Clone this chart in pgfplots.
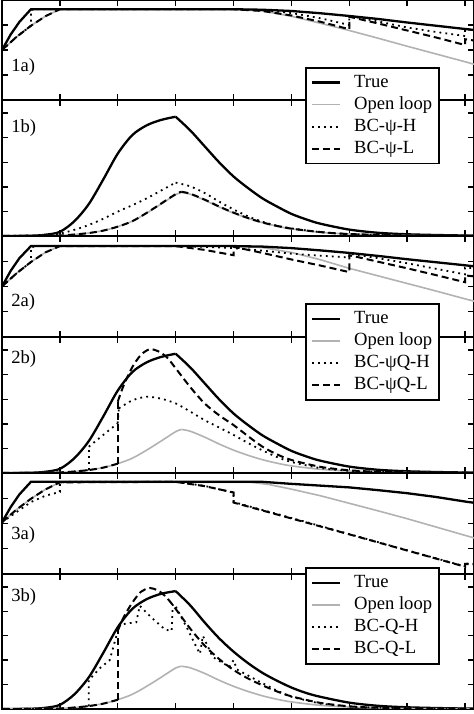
\documentclass[border=0pt]{standalone}
\usepackage{fontspec}
\setmainfont{Liberation Serif}
\usepackage{pgfplots}
\pgfplotsset{compat=1.18}
\definecolor{olgray}{gray}{0.7}
\newcommand{\lblfont}{\fontsize{9.3bp}{11bp}\selectfont}
\pgfplotsset{
  panel/.style={scale only axis, width=236bp, xmin=0, xmax=8.155,
    xtick={1,...,8}, xticklabels={}, yticklabels={},
    tick align=inside, tick pos=both, major tick length=3bp,
    every tick/.style={black, line width=0.7bp},
    axis line style={line width=0.9bp}, anchor=south west, clip=true},
  apanel/.style={panel, height=#1, ymin=0, ymax=4, ytick={1,2,3}},
  bpanel/.style={panel, height=#1, ymin=0, ymax=5.53, ytick={1,...,5}},
  truestyle/.style={black, line width=1.15bp},
  olstyle/.style={olgray, line width=0.8bp},
  hstyle/.style={black, line width=0.9bp, dash pattern=on 0.9bp off 2.1bp},
  lstyle/.style={black, line width=1bp, dash pattern=on 3.5bp off 2bp},
  leg/.style={legend style={at={#1}, anchor=north west, draw=black,
      line width=0.8bp, fill=white, font=\lblfont,
      inner xsep=2.5bp, inner ysep=2.6bp, row sep=1.3bp, nodes={inner sep=1bp}, cells={anchor=west}},
    legend cell align=left,
    legend image code/.code={\draw[##1] (0bp,0bp) -- (14bp,0bp); \path (19.5bp,0bp);}},
}
\begin{document}
\begin{tikzpicture}
\useasboundingbox (0,0) rectangle (237bp,357bp);
% ---------------- 1a
\begin{axis}[apanel=50bp, at={(1bp,307bp)}]
\addplot[olstyle] coordinates {(0,2)(0.25,2.52)(0.5,2.97)(0.75,3.35)(1,3.63)(4,3.63)(4.5,3.56)(5,3.35)(5.5,3.07)(6,2.78)(6.5,2.47)(7,2.15)(7.5,1.84)(8,1.53)(8.155,1.43)};
\addplot[lstyle] coordinates {(0,2)(0.25,2.52)(0.5,2.97)(0.75,3.35)(1,3.63)(4,3.63)(4.5,3.56)(5,3.38)(5.5,3.13)(6,2.83)(6,3.33)(6.5,3.06)(7,2.78)(7.5,2.5)(8,2.2)(8,2.43)(8.155,2.38)};
\addplot[hstyle] coordinates {(0,2)(0.25,2.52)(0.5,2.97)(0.5,3.6)(0.6,3.63)(4,3.63)(4.5,3.59)(5,3.48)(5.5,3.27)(6,3.0)(6,3.36)(6.5,3.14)(7,2.9)(7.5,2.72)(8,2.56)(8,2.83)(8.155,2.8)};
\addplot[truestyle] coordinates {(0,2)(0.15,2.62)(0.3,3.12)(0.5,3.63)(4,3.63)(4.5,3.61)(5,3.56)(5.5,3.47)(6,3.36)(6.5,3.24)(7,3.1)(7.5,2.97)(8,2.84)(8.155,2.8)};
\node[anchor=west, inner sep=0, font=\lblfont] at (rel axis cs:0.019,0.33) {1a)};
\end{axis}
% ---------------- 1b
\begin{axis}[bpanel=68bp, at={(1bp,239bp)}, leg={(0.642,1.243)}]
\addplot[truestyle, smooth, tension=0.5] coordinates {(0,0)(0.5,0.01)(0.75,0.05)(1,0.17)(1.25,0.6)(1.5,1.3)(1.75,2.3)(2,3.35)(2.25,4.1)(2.5,4.5)(2.75,4.72)(3,4.85)};
\addlegendentry{True}
\addplot[truestyle, smooth, tension=0.5, forget plot] coordinates {(3,4.85)(3.25,4.3)(3.5,3.65)(3.75,3.0)(4,2.42)(4.25,1.95)(4.5,1.53)(4.75,1.2)(5,0.9)(5.25,0.68)(5.5,0.5)(6,0.26)(6.5,0.13)(7,0.07)(7.5,0.04)(8,0.02)(8.155,0.02)};
\addplot[olstyle, smooth, tension=0.5] coordinates {(0,0)(0.75,0.01)(1,0.02)(1.25,0.06)(1.5,0.12)(1.75,0.22)(2,0.38)(2.25,0.6)(2.5,0.93)(2.75,1.3)(3,1.68)(3.1,1.77)};
\addlegendentry{Open loop}
\addplot[olstyle, smooth, tension=0.5, forget plot] coordinates {(3.1,1.77)(3.25,1.7)(3.5,1.46)(3.75,1.18)(4,0.93)(4.25,0.72)(4.5,0.54)(4.75,0.4)(5,0.29)(5.5,0.15)(6,0.08)(6.5,0.04)(7,0.02)(8,0.01)(8.155,0.01)};
\addplot[hstyle, smooth, tension=0.5] coordinates {(0,0)(0.5,0.02)(0.75,0.05)(1,0.1)(1.25,0.25)(1.5,0.45)(1.75,0.7)(2,0.99)(2.25,1.25)(2.5,1.53)(2.75,1.85)(3,2.17)};
\addlegendentry{BC-ψ-H}
\addplot[hstyle, smooth, tension=0.5, forget plot] coordinates {(3,2.17)(3.25,2.02)(3.5,1.75)(3.75,1.4)(4,1.08)(4.25,0.8)(4.5,0.58)(4.75,0.42)(5,0.31)(5.5,0.16)(6,0.08)(7,0.02)(8,0.01)(8.155,0.01)};
\addplot[lstyle, smooth, tension=0.5] coordinates {(0,0)(0.75,0.01)(1,0.02)(1.25,0.06)(1.5,0.12)(1.75,0.22)(2,0.38)(2.25,0.6)(2.5,0.94)(2.75,1.32)(3,1.7)(3.1,1.8)};
\addlegendentry{BC-ψ-L}
\addplot[lstyle, smooth, tension=0.5, forget plot] coordinates {(3.1,1.8)(3.25,1.72)(3.5,1.48)(3.75,1.2)(4,0.95)(4.25,0.73)(4.5,0.55)(4.75,0.41)(5,0.3)(5.5,0.16)(6,0.08)(7,0.02)(8,0.01)(8.155,0.01)};
\node[anchor=west, inner sep=0, font=\lblfont] at (rel axis cs:0.019,0.792) {1b)};
\end{axis}
% ---------------- 2a
\begin{axis}[apanel=50.5bp, at={(1bp,188.5bp)}]
\addplot[olstyle] coordinates {(0,2)(0.25,2.52)(0.5,2.97)(0.75,3.35)(1,3.6)(4,3.6)(4.5,3.54)(5,3.35)(5.5,3.06)(6,2.72)(6.5,2.42)(7,2.12)(7.5,1.82)(8,1.51)(8.155,1.42)};
\addplot[lstyle] coordinates {(0,2)(0.25,2.52)(0.5,2.97)(0.75,3.35)(1,3.6)(3,3.6)(3.5,3.45)(4,3.24)(4,3.57)(4.5,3.33)(5,3.07)(5.5,2.83)(6,2.57)(6,3.24)(6.5,2.98)(7,2.72)(7.5,2.45)(8,2.17)(8,2.44)(8.155,2.4)};
\addplot[hstyle] coordinates {(0,2)(0.25,2.52)(0.5,2.97)(0.5,3.55)(0.6,3.6)(3,3.6)(3.5,3.57)(4,3.52)(4.5,3.42)(5,3.3)(5.5,3.22)(6,3.15)(6,3.3)(6.5,3.12)(7,2.92)(7.5,2.7)(8,2.48)(8,2.75)(8.155,2.72)};
\addplot[truestyle] coordinates {(0,2)(0.15,2.62)(0.3,3.12)(0.5,3.6)(4,3.6)(4.5,3.58)(5,3.52)(5.5,3.43)(6,3.33)(6.5,3.21)(7,3.08)(7.5,2.96)(8,2.84)(8.155,2.8)};
\node[anchor=west, inner sep=0, font=\lblfont] at (rel axis cs:0.019,0.35) {2a)};
\end{axis}
% ---------------- 2b
\begin{axis}[bpanel=68bp, at={(1bp,120.5bp)}, leg={(0.642,1.248)}]
\addplot[truestyle, smooth, tension=0.5] coordinates {(0,0)(0.5,0.01)(0.75,0.05)(1,0.17)(1.25,0.6)(1.5,1.3)(1.75,2.3)(2,3.35)(2.25,4.1)(2.5,4.5)(2.75,4.72)(3,4.85)};
\addlegendentry{True}
\addplot[truestyle, smooth, tension=0.5, forget plot] coordinates {(3,4.85)(3.25,4.3)(3.5,3.65)(3.75,3.0)(4,2.42)(4.25,1.95)(4.5,1.53)(4.75,1.2)(5,0.9)(5.25,0.68)(5.5,0.5)(6,0.26)(6.5,0.13)(7,0.07)(7.5,0.04)(8,0.02)(8.155,0.02)};
\addplot[olstyle, smooth, tension=0.5] coordinates {(0,0)(0.75,0.01)(1,0.02)(1.25,0.06)(1.5,0.12)(1.75,0.22)(2,0.38)(2.25,0.6)(2.5,0.93)(2.75,1.3)(3,1.68)(3.1,1.77)};
\addlegendentry{Open loop}
\addplot[olstyle, smooth, tension=0.5, forget plot] coordinates {(3.1,1.77)(3.25,1.7)(3.5,1.46)(3.75,1.18)(4,0.93)(4.25,0.72)(4.5,0.54)(4.75,0.4)(5,0.29)(5.5,0.15)(6,0.08)(6.5,0.04)(7,0.02)(8,0.01)(8.155,0.01)};
\addplot[hstyle, smooth, tension=0.5] coordinates {(0,0)(0.75,0.01)(1,0.02)(1.25,0.06)(1.5,0.12)};
\addlegendentry{BC-ψQ-H}
\addplot[hstyle, forget plot] coordinates {(1.5,0.12)(1.5,1.07)};
\addplot[hstyle, smooth, tension=0.5, forget plot] coordinates {(1.5,1.07)(1.75,1.55)(2,2.02)};
\addplot[hstyle, forget plot] coordinates {(2,2.02)(2.02,2.63)};
\addplot[hstyle, smooth, tension=0.5, forget plot] coordinates {(2.02,2.63)(2.25,2.95)(2.5,3.1)(2.75,3.02)(3,2.83)(3.25,2.5)(3.5,2.15)(3.75,1.85)(4,1.55)(4.25,1.22)(4.5,0.92)(4.75,0.65)(5,0.45)(5.5,0.2)(6,0.09)(6.5,0.05)(7,0.03)(8,0.01)(8.155,0.01)};
\addplot[lstyle, smooth, tension=0.5] coordinates {(0,0)(0.75,0.01)(1,0.02)(1.25,0.06)(1.5,0.12)(1.75,0.22)(2,0.38)};
\addlegendentry{BC-ψQ-L}
\addplot[lstyle, forget plot] coordinates {(2,0.38)(2,2.9)};
\addplot[lstyle, smooth, tension=0.5, forget plot] coordinates {(2,2.9)(2.1,3.55)(2.25,4.3)(2.4,4.8)(2.55,5.03)(2.7,4.95)(2.85,4.7)(3,4.26)(3.25,3.5)(3.5,2.83)(3.75,2.35)(4,1.95)(4.25,1.5)(4.5,1.07)(4.75,0.76)(5,0.53)(5.5,0.25)(6,0.11)(6.5,0.05)(7,0.03)(8,0.01)(8.155,0.01)};
\node[anchor=west, inner sep=0, font=\lblfont] at (rel axis cs:0.019,0.838) {2b)};
\end{axis}
% ---------------- 3a
\begin{axis}[apanel=50.5bp, at={(1bp,70bp)}]
\addplot[olstyle] coordinates {(0,2.05)(0.25,2.55)(0.5,2.98)(0.75,3.35)(1,3.63)(4.3,3.63)(4.6,3.55)(5,3.36)(5.5,3.1)(6,2.8)(6.5,2.5)(7,2.19)(7.5,1.86)(8,1.53)(8.155,1.43)};
\addplot[lstyle] coordinates {(0,2.05)(0.25,2.55)(0.5,2.98)(0.75,3.35)(1,3.63)(3,3.65)(3.5,3.48)(4,3.23)(4,2.83)(5,2.2)(6,1.57)(7,0.93)(8,0.29)(8,0.4)(8.155,0.38)};
\addplot[hstyle] coordinates {(0,2.05)(0.25,2.45)(0.5,2.85)(0.75,3.1)(1,3.25)(1,3.6)(1.1,3.65)(3,3.65)(3.5,3.49)(4,3.22)(4,2.85)(5,2.22)(6,1.58)(7,0.94)(8,0.3)(8,0.42)(8.155,0.4)};
\addplot[truestyle] coordinates {(0,2.05)(0.15,2.65)(0.3,3.15)(0.5,3.65)(4.5,3.65)(5,3.57)(5.5,3.5)(6,3.43)(6.5,3.32)(7,3.2)(7.5,3.05)(8,2.87)(8.155,2.82)};
\node[anchor=west, inner sep=0, font=\lblfont] at (rel axis cs:0.019,0.386) {3a)};
\end{axis}
% ---------------- 3b
\begin{axis}[bpanel=67.5bp, at={(1bp,2.5bp)}, leg={(0.642,1.05)}]
\addplot[truestyle, smooth, tension=0.5] coordinates {(0,0)(0.5,0.01)(0.75,0.05)(1,0.17)(1.25,0.6)(1.5,1.3)(1.75,2.3)(2,3.35)(2.25,4.1)(2.5,4.5)(2.75,4.72)(3,4.83)};
\addlegendentry{True}
\addplot[truestyle, smooth, tension=0.5, forget plot] coordinates {(3,4.83)(3.25,4.25)(3.5,3.55)(3.75,2.9)(4,2.35)(4.25,1.88)(4.5,1.48)(4.75,1.16)(5,0.88)(5.25,0.66)(5.5,0.5)(6,0.26)(6.5,0.13)(7,0.07)(7.5,0.04)(8,0.02)(8.155,0.02)};
\addplot[olstyle, smooth, tension=0.5] coordinates {(0,0)(0.75,0.01)(1,0.02)(1.25,0.06)(1.5,0.12)(1.75,0.22)(2,0.38)(2.25,0.6)(2.5,0.93)(2.75,1.3)(3,1.68)(3.1,1.75)};
\addlegendentry{Open loop}
\addplot[olstyle, smooth, tension=0.5, forget plot] coordinates {(3.1,1.75)(3.25,1.69)(3.5,1.46)(3.75,1.18)(4,0.93)(4.25,0.72)(4.5,0.54)(4.75,0.4)(5,0.29)(5.5,0.15)(6,0.08)(6.5,0.04)(7,0.02)(8,0.01)(8.155,0.01)};
\addplot[hstyle, smooth, tension=0.5] coordinates {(0,0)(0.75,0.01)(1,0.02)(1.25,0.06)(1.5,0.12)};
\addlegendentry{BC-Q-H}
\addplot[hstyle, forget plot] coordinates {(1.5,0.12)(1.5,1.18)(1.69,1.67)(1.86,2.0)(2.03,3.45)(2.15,3.5)(2.32,3.55)(2.38,4.23)(2.58,3.75)(2.82,3.25)(2.93,3.2)(2.95,4.3)(3.01,4.16)(3.19,3.35)(3.36,2.53)(3.42,2.26)(3.47,3.0)(3.64,2.13)(3.93,1.72)(4.0,2.0)(4.06,1.62)(4.4,1.18)(4.75,0.75)(5,0.5)(5.5,0.22)(6,0.1)(6.5,0.05)(7,0.03)(8,0.01)(8.155,0.01)};
\addplot[lstyle, smooth, tension=0.5] coordinates {(0,0)(0.75,0.01)(1,0.02)(1.25,0.06)(1.5,0.12)(1.75,0.22)(2,0.38)};
\addlegendentry{BC-Q-L}
\addplot[lstyle, forget plot] coordinates {(2,0.38)(2,3.2)};
\addplot[lstyle, smooth, tension=0.5, forget plot] coordinates {(2,3.2)(2.1,3.75)(2.25,4.35)(2.4,4.8)(2.55,4.95)(2.7,4.85)(2.85,4.55)(3,4.1)(3.25,3.3)(3.5,2.6)(3.75,2.05)(4,1.6)(4.25,1.25)(4.5,0.97)(4.75,0.72)(5,0.52)(5.5,0.25)(6,0.11)(6.5,0.05)(7,0.03)(8,0.01)(8.155,0.01)};
\node[anchor=west, inner sep=0, font=\lblfont] at (rel axis cs:0.019,0.827) {3b)};
\end{axis}
\end{tikzpicture}
\end{document}
